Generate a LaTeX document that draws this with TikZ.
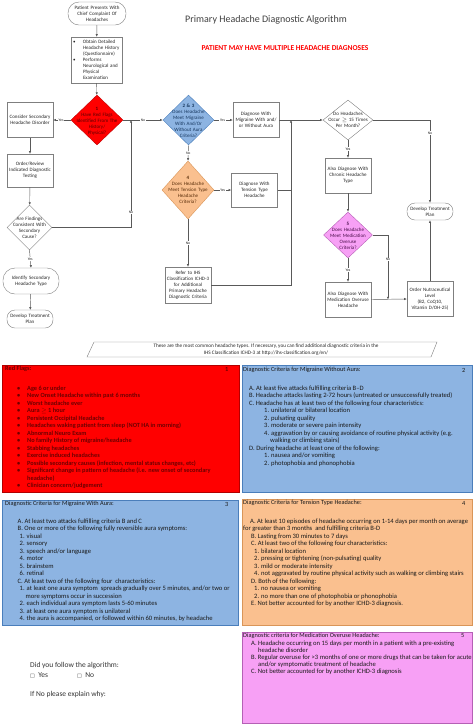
\documentclass[tikz,border=0pt]{standalone}
\usepackage{fontspec}
\setmainfont{Carlito}
\newfontfamily\dejavu{DejaVu Sans}
\usetikzlibrary{shapes.geometric,arrows.meta}
\definecolor{flagred}{HTML}{FF0000}
\definecolor{flagtxt}{HTML}{6E0000}
\definecolor{d1txt}{HTML}{5A0000}
\definecolor{mblue}{HTML}{8DB4E2}
\definecolor{mblueb}{HTML}{4A7EBB}
\definecolor{mbluet}{HTML}{17375E}
\definecolor{tor}{HTML}{FAC08F}
\definecolor{torb}{HTML}{D99558}
\definecolor{tort}{HTML}{5A2E0A}
\definecolor{moh}{HTML}{F7A0F5}
\definecolor{mohb}{HTML}{B560B5}
\definecolor{moht}{HTML}{4A0E4A}
\definecolor{lngray}{HTML}{595959}
\definecolor{bxgray}{HTML}{7F7F7F}
\begin{document}
\begin{tikzpicture}[x=1pt,y=-1pt,
  fl/.style={font=\fontsize{5}{6}\selectfont, align=center, text=black!85},
  fbox/.style={fl, draw=bxgray, line width=0.4pt, fill=white, minimum width=46pt, minimum height=35pt, text width=46pt, inner sep=0pt},
  oval/.style={fbox, rounded corners=8pt},
  dia/.style={diamond, draw=bxgray, line width=0.4pt, fill=white, inner sep=0pt},
  dtxt/.style={fl, text width=46pt, inner sep=0pt},
  arr/.style={draw=lngray, line width=0.45pt, -{Latex[length=2.6pt,width=2.3pt]}},
  ln/.style={draw=lngray, line width=0.45pt},
  lab/.style={font=\fontsize{3.8}{4}\selectfont, fill=white, inner sep=0.6pt, text=black!85},
  crit/.style={font=\fontsize{6.6}{7.5}\selectfont, align=left, anchor=north west, inner sep=0pt, text=black!90},
  ctitle/.style={font=\fontsize{6.3}{7}\selectfont, anchor=west, inner sep=0pt, text=black!90}
]
\useasboundingbox (0,0) rectangle (474,724);

% titles
\node[font=\fontsize{10}{12}\selectfont, text=black!75] (title) at (266,20) {Primary Headache Diagnostic Algorithm};
\node[font=\fontsize{7.5}{8}\selectfont\bfseries, text=red] (sub) at (285,48) {PATIENT MAY HAVE MULTIPLE HEADACHE DIAGNOSES};

% flow nodes
\node[oval, minimum width=58pt, minimum height=23pt, rounded corners=11pt, text width=56pt] (start) at (97,13.5) {Patient Presents With\\Chief Complaint Of\\Headaches};
\node[fbox, minimum width=51pt, minimum height=46pt, text width=47pt, align=left] (hist) at (96.5,60)
 {\makebox[10pt][l]{\textbullet}Obtain Detailed\\\hspace*{10pt}Headache History\\\hspace*{10pt}(Questionnaire)\\\makebox[10pt][l]{\textbullet}Performs\\\hspace*{10pt}Neurological and\\\hspace*{10pt}Physical\\\hspace*{10pt}Examination};

\node[dia, draw=red!75!black, fill=flagred, minimum width=52pt, minimum height=50pt] (d1) at (97,120) {};
\node[dtxt, text=d1txt] (d1t) at (97,121) {\textbf{1}\\Have Red Flags\\Identified From The\\History/\\Physical?};

\node[fbox] (consider) at (30,120) {Consider Secondary\\Headache Disorder};
\node[fbox, minimum height=33pt] (orderT) at (30,170.5) {Order/Review\\Indicated Diagnostic\\Testing};
\node[dia, minimum width=45pt, minimum height=45pt] (dfind) at (29.5,227.5) {};
\node[dtxt] (dfindt) at (29.5,228) {Are Findings\\Consistent With\\Secondary\\Cause?};
\node[oval, minimum width=56pt, minimum height=26pt, rounded corners=12pt, text width=54pt] (identify) at (31,281) {Identify Secondary\\Headache Type};
\node[oval, minimum height=18pt, rounded corners=8pt] (devL) at (30,319) {Develop Treatment\\Plan};

\node[dia, draw=mblueb, fill=mblue, minimum width=51pt, minimum height=50pt] (d23) at (188.5,120) {};
\node[dtxt, text=mbluet] (d23t) at (188.5,120.5) {\textbf{2 \& 3}\\Does Headache\\Meet Migraine\\With And/Or\\Without Aura\\Criteria?};
\node[fbox] (diagMig) at (256,120) {Diagnose With\\Migraine With and/\\or Without Aura};

\node[dia, draw=torb, fill=tor, minimum width=52pt, minimum height=58pt] (d4) at (188,190) {};
\node[dtxt, text=tort] (d4t) at (188,190) {\textbf{4}\\Does Headache\\Meet Tension Type\\Headache\\Criteria?};
\node[fbox, minimum width=45pt, minimum height=34pt] (diagTT) at (254.5,190) {Diagnose With\\Tension Type\\Headache};
\node[fbox, minimum height=36pt] (refer) at (188,285) {Refer to IHS\\Classification ICHD-3\\for Additional\\Primary Headache\\Diagnostic Criteria};

\node[dia, minimum width=50pt, minimum height=40pt] (dfreq) at (348,120) {};
\node[dtxt] (dfreqt) at (348,120) {Do Headaches\\Occur $\geq$ 15 Times\\Per Month?};
\node[fbox] (chronic) at (348,175.5) {Also Diagnose With\\Chronic Headache\\Type};
\node[dia, draw=mohb, fill=moh, minimum width=49pt, minimum height=46pt] (d5) at (348,235) {};
\node[dtxt, text=moht] (d5t) at (348,235.5) {\textbf{5}\\Does Headache\\Meet Medication\\Overuse\\Criteria?};
\node[fbox] (mohbox) at (348,299.5) {Also Diagnose With\\Medication Overuse\\Headache};
\node[fbox] (order2) at (430,299) {Order Nutraceutical\\Level\\(B2, CoQ10,\\Vitamin D/OH-25)};
\node[oval, minimum height=17pt, rounded corners=8pt] (devR) at (430,211.5) {Develop Treatment\\Plan};

% connectors
\draw[arr] (start) -- (hist);
\draw[arr] (hist) -- (d1);
\draw[arr] (d1.west) -- node[lab,pos=0.55]{Yes} (consider.east);
\draw[arr] (d1.east) -- node[lab,pos=0.5]{No} (d23.west);
\draw[arr] (consider) -- (orderT);
\draw[arr] (orderT) -- (dfind);
\coordinate (j1) at (131,120);
\draw[arr] (dfind.east) -- (dfind.east -| j1) -- node[lab,pos=0.14]{No} (j1);
\draw[arr] (dfind.south) -- node[lab]{Yes} (identify.north);
\draw[arr] (identify) -- (devL);
\draw[arr] (d23.east) -- node[lab,pos=0.45]{Yes} (diagMig.west);
\draw[arr] (d23.south) -- node[lab]{No} (d4.north);
\draw[arr] (diagMig.east) -- (dfreq.west);
\draw[arr] (d4.east) -- node[lab]{Yes} (diagTT.west);
\coordinate (j2) at (291,120);
\draw[ln] (diagTT.east) -- (diagTT.east -| j2);
\draw[arr] (refer.east) -- (refer.east -| j2) -- (j2);
\draw[arr] (d4.south) -- node[lab]{No} (refer.north);
\draw[arr] (dfreq.south) -- node[lab]{Yes} (chronic.north);
\draw[arr] (dfreq.east) -- (dfreq.east -| devR) -- node[lab,pos=0.16]{No} (devR.north);
\draw[arr] (chronic) -- (d5);
\draw[arr] (d5.south) -- node[lab]{Yes} (mohbox.north);
\coordinate (j3) at (388,299.5);
\draw[arr] (d5.east) -- (d5.east -| j3) -- node[lab,pos=0.38]{No} (j3);
\draw[arr] (mohbox.east) -- (order2.west);
\draw[arr] (order2) -- (devR);

% note
\draw[bxgray, line width=0.4pt] (94,342) -- (437,342) -- (431,357) -- (87,357) -- cycle;
\node[font=\fontsize{5.2}{6.4}\selectfont, align=center, text=black!85] (note) at (266,349.5) {These are the most common headache types. If necessary, you can find additional diagnostic criteria in the\\IHS Classification ICHD-3 at http://ihs-classification.org/en/};

% criteria boxes
\draw[draw=red!70!black, fill=flagred, line width=0.4pt] (2,365) rectangle (239,492);
\draw[draw=mblueb, fill=mblue, line width=0.5pt] (242,365) rectangle (472,492);
\draw[draw=mblueb, fill=mblue, line width=0.5pt] (2,500) rectangle (238,625);
\draw[draw=torb, fill=tor, line width=0.5pt] (242,499) rectangle (472,625);
\draw[draw=mohb, fill=moh, line width=0.5pt] (242,632) rectangle (472,723);

\node[ctitle, text=flagtxt, font=\fontsize{6.3}{7}\selectfont\bfseries] (rft) at (5,369) {Red Flags:};
\node[ctitle, text=flagtxt, font=\fontsize{6.3}{7}\selectfont\bfseries] (rfn) at (225,369) {1};
\node[crit, text=flagtxt, font=\fontsize{6.3}{7.5}\selectfont\bfseries] (rfb) at (17,385.5) {%
\makebox[10pt][l]{\textbullet}Age 6 or under\\
\makebox[10pt][l]{\textbullet}New Onset Headache within past 6 months\\
\makebox[10pt][l]{\textbullet}Worst headache ever\\
\makebox[10pt][l]{\textbullet}Aura $\geq$ 1 hour\\
\makebox[10pt][l]{\textbullet}Persistent Occipital Headache\\
\makebox[10pt][l]{\textbullet}Headaches waking patient from sleep (NOT HA in morning)\\
\makebox[10pt][l]{\textbullet}Abnormal Neuro Exam\\
\makebox[10pt][l]{\textbullet}No family History of migraine/headache\\
\makebox[10pt][l]{\textbullet}Stabbing headaches\\
\makebox[10pt][l]{\textbullet}Exercise induced headaches\\
\makebox[10pt][l]{\textbullet}Possible secondary causes (infection, mental status changes, etc)\\
\makebox[10pt][l]{\textbullet}Significant change in pattern of headache (i.e. new onset of secondary\\
\hspace*{10pt}headache)\\
\makebox[10pt][l]{\textbullet}Clinician concern/judgement};

\node[ctitle] (c2t) at (243,370) {Diagnostic Criteria for Migraine Without Aura:};
\node[ctitle] (c2n) at (462,370) {2};
\node[crit] (c2b) at (249,385.5) {%
A. At least five attacks fulfilling criteria B--D\\
B. Headache attacks lasting 2-72 hours (untreated or unsuccessfully treated)\\
C. Headache has at least two of the following four characteristics:\\
\hspace*{15pt}1. unilateral or bilateral location\\
\hspace*{15pt}2. pulsating quality\\
\hspace*{15pt}3. moderate or severe pain intensity\\
\hspace*{15pt}4. aggravation by or causing avoidance of routine physical activity (e.g.\\
\hspace*{21pt}walking or climbing stairs)\\
D. During headache at least one of the following:\\
\hspace*{15pt}1. nausea and/or vomiting\\
\hspace*{15pt}2. photophobia and phonophobia};

\node[ctitle] (c3t) at (5,504) {Diagnostic Criteria for Migraine With Aura:};
\node[ctitle] (c3n) at (225,504) {3};
\node[crit] (c3b) at (17.5,518.5) {%
A. At least two attacks fulfilling criteria B and C\\
B. One or more of the following fully reversible aura symptoms:\\
\hspace*{2pt}1. visual\\
\hspace*{2pt}2. sensory\\
\hspace*{2pt}3. speech and/or language\\
\hspace*{2pt}4. motor\\
\hspace*{2pt}5. brainstem\\
\hspace*{2pt}6. retinal\\
C. At least two of the following four\ \ characteristics:\\
\hspace*{2pt}1. at least one aura symptom\ \ spreads gradually over 5 minutes, and/or two or\\
\hspace*{8pt}more symptoms occur in succession\\
\hspace*{2pt}2. each individual aura symptom lasts 5-60 minutes\\
\hspace*{2pt}3. at least one aura symptom is unilateral\\
\hspace*{2pt}4. the aura is accompanied, or followed within 60 minutes, by headache};

\node[ctitle] (c4t) at (243,503) {Diagnostic Criteria for Tension Type Headache:};
\node[ctitle] (c4n) at (462,503) {4};
\node[crit] (c4b) at (243,518.5) {%
\hspace*{7pt}A. At least 10 episodes of headache occurring on 1-14 days per month on average\\
for greater than 3 months\ \ and fulfilling criteria B-D\\
\hspace*{8pt}B. Lasting from 30 minutes to 7 days\\
\hspace*{8pt}C. At least two of the following four characteristics:\\
\hspace*{11pt}1. bilateral location\\
\hspace*{11pt}2. pressing or tightening (non-pulsating) quality\\
\hspace*{11pt}3. mild or moderate intensity\\
\hspace*{11pt}4. not aggravated by routine physical activity such as walking or climbing stairs\\
\hspace*{8pt}D. Both of the following:\\
\hspace*{11pt}1. no nausea or vomiting\\
\hspace*{11pt}2. no more than one of photophobia or phonophobia\\
\hspace*{8pt}E. Not better accounted for by another ICHD-3 diagnosis.};

\node[ctitle] (c5t) at (243,635.5) {Diagnostic criteria for Medication Overuse Headache:};
\node[ctitle] (c5n) at (461,635.5) {5};
\node[crit, font=\fontsize{6.6}{7}\selectfont] (c5b) at (243,640.5) {%
\hspace*{8pt}A. Headache occurring on 15 days per month in a patient with a pre-existing\\
\hspace*{15pt}headache disorder\\
\hspace*{8pt}B. Regular overuse for >3 months of one or more drugs that can be taken for acute\\
\hspace*{15pt}and/or symptomatic treatment of headache\\
\hspace*{8pt}C. Not better accounted for by another ICHD-3 diagnosis};

% questionnaire
\tikzset{qtext/.style={font=\fontsize{7.5}{9}\selectfont, anchor=west, inner sep=0pt, text=black!80}}
\node[qtext] (q1) at (30,666) {Did you follow the algorithm:};
\node[qtext] (q2) at (30,675) {{\dejavu\fontsize{5}{6}\selectfont □}\ \ Yes};
\node[qtext] (q3) at (77,675) {{\dejavu\fontsize{5}{6}\selectfont □}\ \ No};
\node[qtext] (q4) at (30,694) {If No please explain why:};
\end{tikzpicture}
\end{document}
